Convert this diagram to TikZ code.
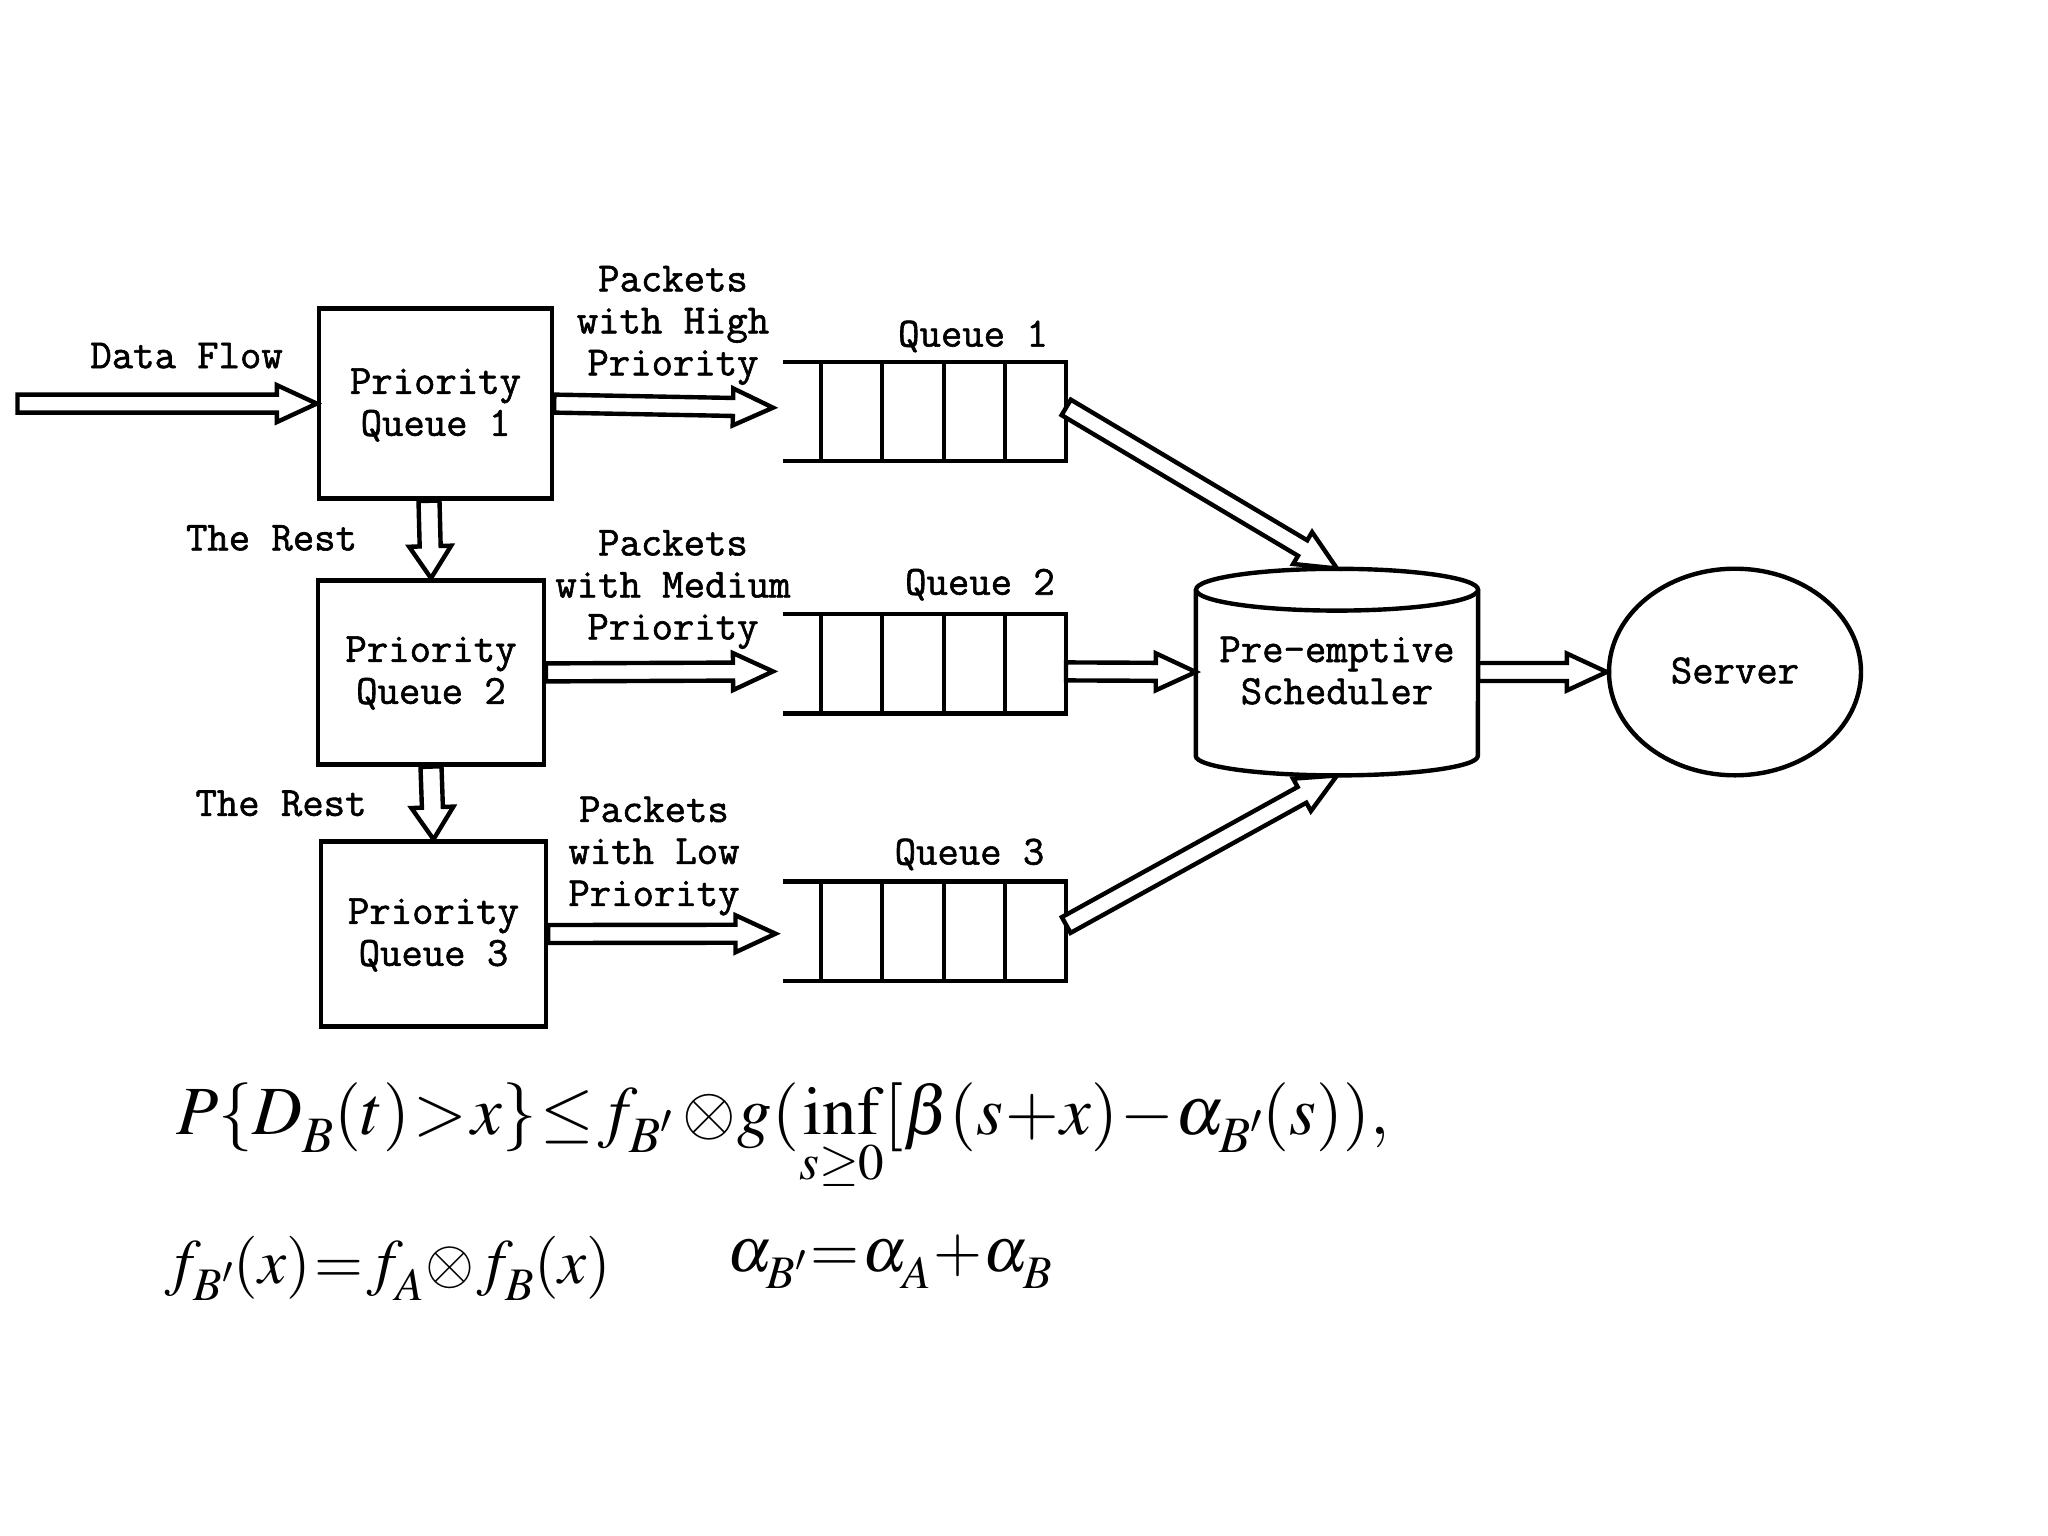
\documentclass[tikz,border=0pt]{standalone}
\usepackage{mathptmx}
\usepackage[no-math]{fontspec}
\usetikzlibrary{calc,shapes.geometric}
\newfontfamily\dfont{Latin Modern Mono}[FakeBold=1.4]
\tikzset{
  lw/.style={line width=4.4pt},
  txt/.style={font=\dfont\fontsize{41.5}{42}\selectfont,align=center,inner sep=0pt},
  box/.style={draw,lw,inner sep=0pt,txt},
  q/.style={inner sep=0pt,minimum width=283pt,minimum height=99pt},
  block/.style n args={3}{lw,line join=miter,fill=white,to path={
    ($(\tikztostart)!#1!90:(\tikztotarget)$)
    -- ($(\tikztotarget)!#3!(\tikztostart)!#1!90:(\tikztotarget)$)
    -- ($(\tikztotarget)!#3!(\tikztostart)!#2!90:(\tikztotarget)$)
    -- (\tikztotarget)
    -- ($(\tikztotarget)!#3!(\tikztostart)!#2!-90:(\tikztotarget)$)
    -- ($(\tikztotarget)!#3!(\tikztostart)!#1!-90:(\tikztotarget)$)
    -- ($(\tikztostart)!#1!-90:(\tikztotarget)$) -- cycle (\tikztotarget)}},
  harrow/.style={block={9pt}{18.5pt}{40pt}},
  varrow/.style={block={10.5pt}{21pt}{32pt}},
  fm/.style={anchor=base west,inner sep=0pt,font=\fontsize{69}{76}\selectfont},
  fs/.style={fm,font=\fontsize{63}{70}\selectfont}
}
\newcommand{\sbx}[1]{_{\raisebox{-8pt}{$\scriptstyle #1$}}}
\newcommand{\queuebody}[1]{%
  \draw[lw] (#1.north west) -- (#1.north east) -- (#1.south east) -- (#1.south west);
  \foreach \dx in {38,99,161,222}
    \draw[lw] ($(#1.north west)+(\dx,0)$) -- ($(#1.south west)+(\dx,0)$);
}
\begin{document}
\begin{tikzpicture}[x=1pt,y=-1pt]
\useasboundingbox (0,0) rectangle (2048,1536);
% boxes
\node[box,minimum width=233pt,minimum height=190pt] (pq1) at (435.5,403.6) {};
\node[box,minimum width=225.5pt,minimum height=184pt] (pq2) at (431,672.4) {};
\node[box,minimum width=225pt,minimum height=185pt] (pq3) at (433.5,934) {};
\node[txt] (p1) at (435.5,405) {Priority\\Queue 1};
\node[txt] (p2) at (431,673) {Priority\\Queue 2};
\node[txt] (p3) at (433.5,935) {Priority\\Queue 3};
% queues
\node[q] (q1) at (924.5,411.4) {};
\node[q] (q2) at (924.5,663.8) {};
\node[q] (q3) at (924.5,931) {};
\queuebody{q1}\queuebody{q2}\queuebody{q3}
% scheduler
\node[inner sep=0pt,minimum width=282pt,minimum height=206.6pt] (sch) at (1337,672) {};
\node[txt] (scht) at (1337,670.6) {Pre-emptive\\Scheduler};
\draw[lw] (sch.west |- 0,589.7) -- (sch.west |- 0,756) arc[start angle=180,end angle=360,x radius=141,y radius=-19.4] -- (sch.east |- 0,589.7);
\draw[lw] (1337,589.7) ellipse[x radius=141,y radius=20.9];
% server
\node[ellipse,draw,lw,inner sep=0pt,minimum width=252pt,minimum height=206.6pt] (srv) at (1735,672) {};
\node[txt] (srvt) at (1735,670.6) {Server};
% free ends
\coordinate (in) at (17.5,403.6);
\coordinate (t1) at (773,407.7);
\coordinate (t2) at (773,671.4);
\coordinate (t3) at (775.5,933.7);
\coordinate (o2) at (1066,671.4);
% arrows
\draw[harrow] (in) to (pq1.west);
\draw[harrow] (pq1.east) to (t1);
\draw[harrow] (pq2.east) to (t2);
\draw[harrow] (pq3.east) to (t3);
\draw[varrow] ([xshift=-6.5pt]pq1.south) to (pq2.north);
\draw[varrow] (pq2.south) to (pq3.north);
\draw[harrow] ([yshift=4pt]q1.east) to (sch.north);
\draw[harrow] (o2) to (sch.west);
\draw[harrow] ([yshift=6pt]q3.east) to (sch.south);
\draw[harrow] (sch.east) to (srv.west);
% labels
\node[txt] (l0) at (186.6,355.6) {Data Flow};
\node[txt] (l1) at (673,325.4) {Packets\\with High\\Priority};
\node[txt] (l2) at (673,589.5) {Packets\\with Medium\\Priority};
\node[txt] (l3) at (654,856) {Packets\\with Low\\Priority};
\node[txt] (n1) at (973,336.5) {Queue 1};
\node[txt] (n2) at (980,584.7) {Queue 2};
\node[txt] (n3) at (969.5,854.5) {Queue 3};
\node[txt] (r1) at (271.5,538) {The Rest};
\node[txt] (r2) at (281,803.4) {The Rest};
% formulas
\thickmuskip=1mu \medmuskip=0.5mu
\node[fm] (f1) at (176,1134) {$P\{D\sbx{B}(t)>x\}\le f\sbx{B'}\,\otimes g(\mathop{\mathrm{inf}}\limits_{s\ge 0}[\beta(s+x)-\alpha\sbx{B'}(s)),$};
\node[fs] (f2) at (165,1283) {$f\sbx{B'}(x)=f\sbx{A}\otimes f\sbx{B}(x)$};
\node[fs] (f3) at (727,1271) {$\alpha\sbx{B'}=\alpha\sbx{A}+\alpha\sbx{B}$};
\end{tikzpicture}
\end{document}
